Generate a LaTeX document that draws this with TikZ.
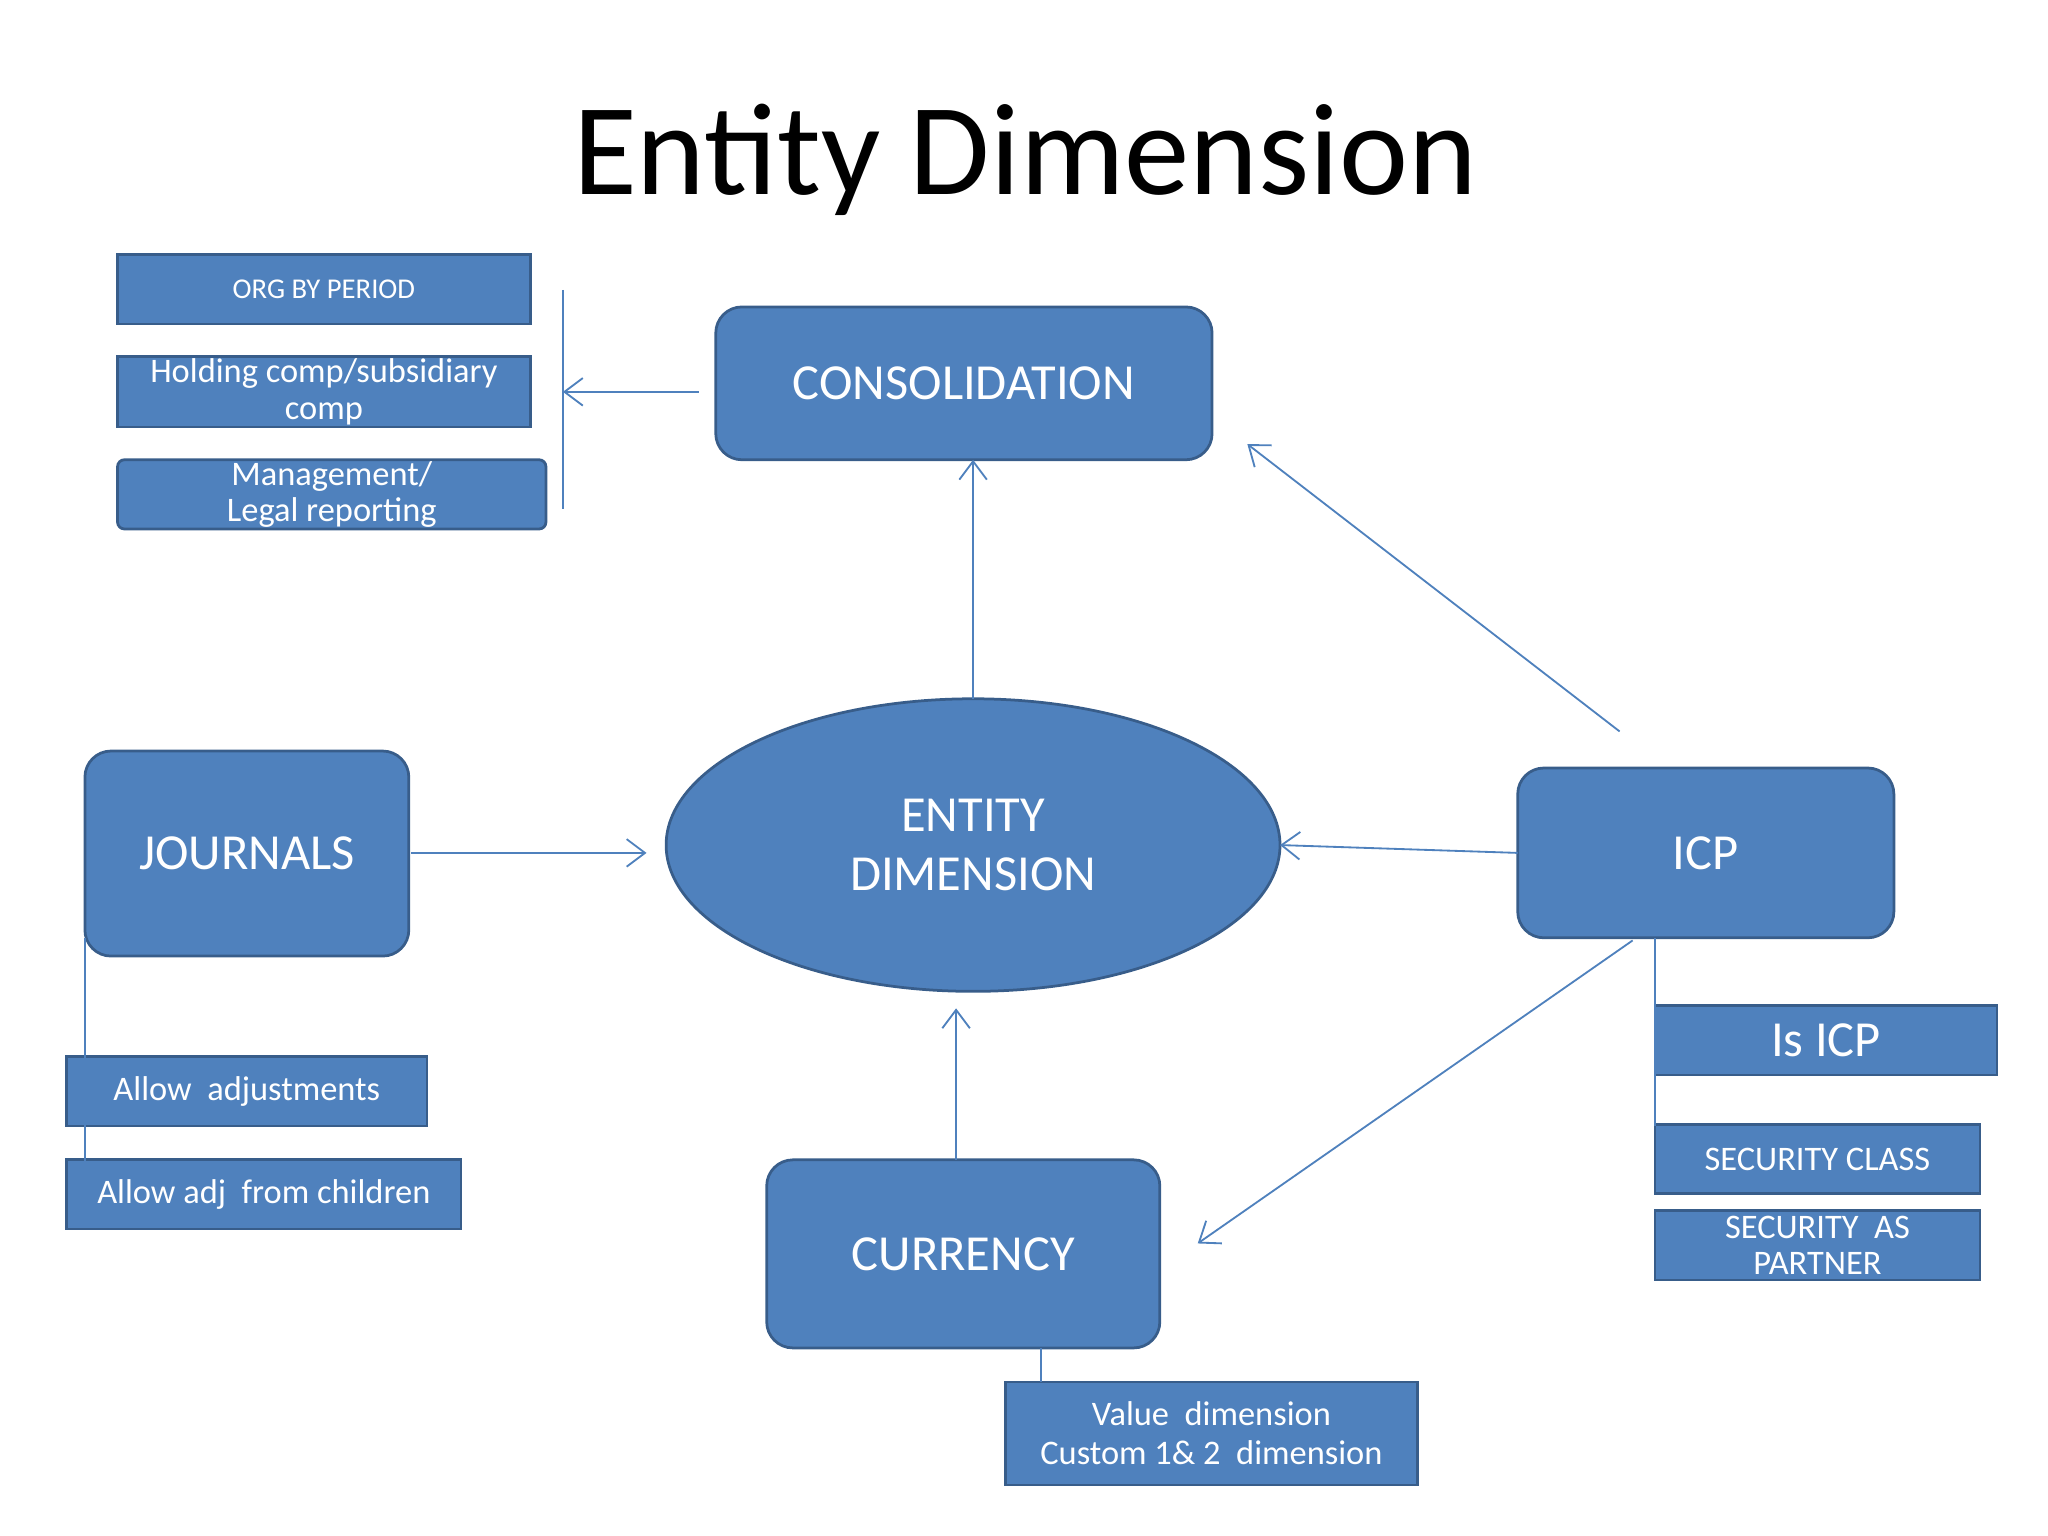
\documentclass[tikz,border=0pt]{standalone}
\usepackage{fontspec}
\setmainfont{Carlito}
\usetikzlibrary{shapes.geometric,arrows.meta}
\definecolor{bfill}{HTML}{4F81BD}
\definecolor{bdraw}{HTML}{385D8A}
\begin{document}
\begin{tikzpicture}[x=0.02cm,y=-0.02cm,
  box/.style={draw=bdraw,fill=bfill,line width=1.2pt,text=white,inner sep=0pt,align=center},
  rbox/.style={box,rounded corners=0.4cm},
  con/.style={draw=bfill,line width=0.8pt},
  arr/.style={con,-{Straight Barb[length=8pt,width=12pt]}}]
\useasboundingbox (0,0) rectangle (1568,1176);
\node (title) at (785,122) {\fontsize{57}{60}\selectfont Entity Dimension};
\node[box,minimum width=316*0.02cm,minimum height=53*0.02cm,font=\fontsize{12.5}{14}\selectfont] (org) at (248,221.5) {ORG BY PERIOD};
\node[box,minimum width=316*0.02cm,minimum height=54*0.02cm,font=\fontsize{15}{16}\selectfont] (hold) at (248,300) {Holding comp/subsidiary\\comp};
\node[box,rounded corners=3pt,minimum width=328*0.02cm,minimum height=53*0.02cm,font=\fontsize{15}{16}\selectfont] (mgmt) at (254,378.5) {Management/\\Legal reporting};
\coordinate (vt) at (431,222); \coordinate (vb) at (431,390);
\coordinate (vm) at (431,300);
\draw[con] (vt) -- (vb);
\node[rbox,minimum width=380*0.02cm,minimum height=117*0.02cm,font=\fontsize{22}{24}\selectfont] (cons) at (738,293.5) {CONSOLIDATION};
\node[ellipse,box,minimum width=470*0.02cm,minimum height=224*0.02cm,font=\fontsize{22}{26}\selectfont] (ent) at (745,647) {ENTITY\\DIMENSION};
\node[rbox,minimum width=248*0.02cm,minimum height=157*0.02cm,font=\fontsize{22}{24}\selectfont] (jour) at (189,653.5) {JOURNALS};
\node[rbox,minimum width=288*0.02cm,minimum height=130*0.02cm,font=\fontsize{22}{24}\selectfont] (icp) at (1306,653) {ICP};
\node[rbox,minimum width=301*0.02cm,minimum height=144*0.02cm,font=\fontsize{22}{24}\selectfont] (cur) at (737.5,960) {CURRENCY};
\node[box,minimum width=315*0.02cm,minimum height=79*0.02cm,font=\fontsize{15}{17}\selectfont] (val) at (927.5,1097.5) {Value\ \ dimension\\Custom 1\&\ 2\ \ dimension};
\node[box,minimum width=276*0.02cm,minimum height=53*0.02cm,font=\fontsize{15}{16}\selectfont] (aa) at (189,835.5) {Allow\ \ adjustments};
\node[box,minimum width=302*0.02cm,minimum height=53*0.02cm,font=\fontsize{15}{16}\selectfont] (ac) at (202,914.5) {Allow adj\ \ from children};
\node[box,minimum width=262*0.02cm,minimum height=53*0.02cm,font=\fontsize{22}{24}\selectfont] (isicp) at (1398,796.5) {Is ICP};
\node[box,minimum width=249*0.02cm,minimum height=53*0.02cm,font=\fontsize{15}{16}\selectfont] (sc) at (1391.5,887.5) {SECURITY CLASS};
\node[box,minimum width=249*0.02cm,minimum height=53*0.02cm,font=\fontsize{15}{16}\selectfont] (sp) at (1391.5,953.5) {SECURITY\ \ AS\\PARTNER};
% connectors
\coordinate (c1) at (535,300);
\draw[arr] (c1) -- (vm);
\coordinate (e1) at (745,535); \coordinate (e2) at (745,352);
\draw[arr] (e1) -- (e2);
\coordinate (i1) at (1240,560); \coordinate (i2) at (955,340);
\draw[arr] (i1) -- (i2);
\coordinate (j1) at (315,653); \coordinate (j2) at (495,653);
\draw[arr] (j1) -- (j2);
\coordinate (k1) at (1162,653); \coordinate (k2) at (980,647);
\draw[arr] (k1) -- (k2);
\coordinate (l1) at (1250,720); \coordinate (l2) at (917,952);
\draw[arr] (l1) -- (l2);
\coordinate (m1) at (732,888); \coordinate (m2) at (732,772);
\draw[arr] (m1) -- (m2);
\coordinate (n1) at (797,1032); \coordinate (n2) at (797,1058);
\draw[con] (n1) -- (n2);
\coordinate (p1) at (65,718); \coordinate (p2) at (65,912);
\draw[con] (p1) -- (p2);
\coordinate (q1) at (1267,718); \coordinate (q2) at (1267,862);
\draw[con] (q1) -- (q2);
\end{tikzpicture}
\end{document}
